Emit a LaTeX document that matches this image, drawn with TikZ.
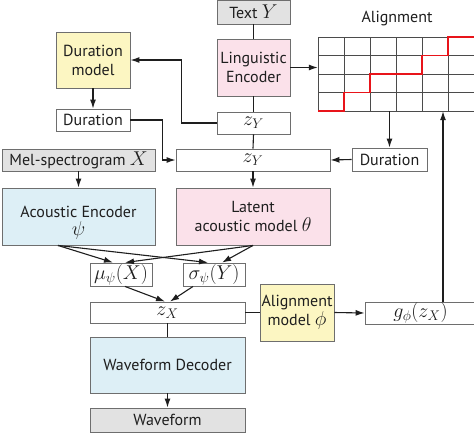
\RequirePackage{fix-cm}
\documentclass[tikz,border=0pt]{standalone}
\usepackage{fontspec}
\setmainfont{PT Sans}
\usetikzlibrary{arrows.meta}
\definecolor{bord}{HTML}{6E6E6E}
\definecolor{cyel}{HTML}{FCF6C2}
\definecolor{cpink}{HTML}{FBE1EA}
\definecolor{cblue}{HTML}{DDEFF6}
\definecolor{cgray}{HTML}{E2E2E2}
\definecolor{cred}{HTML}{E8141A}
\definecolor{cline}{HTML}{1E1E1E}
\newcommand\mymath[1]{{\fontsize{20}{20}\selectfont$#1$}}
\begin{document}
\begin{tikzpicture}[x=1pt,y=-1pt,
  font=\fontsize{16}{19}\selectfont,
  box/.style={draw=bord,line width=0.9pt,inner sep=0pt,align=center,text=cline},
  conn/.style={draw=cline,line width=1.1pt},
  arr/.style={conn,-{Latex[length=9pt,width=6pt]}}]
\useasboundingbox (0,0) rectangle (474,432);
\clip (0,0) rectangle (474,432);
\fill[white] (0,0) rectangle (474,432);
% nodes
\node[box,fill=cgray,minimum width=73pt,minimum height=24pt] (textY) at (253.5,12) {Text \mymath{Y}};
\node[box,fill=cpink,minimum width=73pt,minimum height=57pt] (ling) at (253.5,67.5) {Linguistic\\Encoder};
\node[box,fill=cyel,minimum width=74pt,minimum height=56pt] (durmodel) at (93,60) {Duration\\model};
\node[box,minimum width=74pt,minimum height=22pt] (dur1) at (93,120) {Duration};
\node[box,minimum width=73pt,minimum height=22pt] (zy1) at (253.5,123) {\mymath{z_Y}};
\node[box,fill=cgray,minimum width=153pt,minimum height=22pt] (mel) at (78.5,160) {Mel-spectrogram \mymath{X}};
\node[box,minimum width=154pt,minimum height=22pt] (zy2) at (253,160) {\mymath{z_Y}};
\node[box,minimum width=75pt,minimum height=23pt] (dur2) at (389.5,159.5) {Duration};
\node[text=cline] (alabel) at (397,19) {Alignment};
\node[minimum width=156pt,minimum height=74pt,inner sep=0pt] (grid) at (396,74) {};
\node[box,fill=cblue,minimum width=153pt,minimum height=57pt] (ae) at (78.5,216.5)
  {\raisebox{-6pt}[\height][\depth]{\begin{tabular}{@{}c@{}}Acoustic Encoder\\[-1pt]\mymath{\psi}\end{tabular}}};
\node[box,fill=cpink,minimum width=154pt,minimum height=57pt] (latent) at (253,216.5) {Latent\\acoustic model \mymath{\theta}};
\node[box,minimum width=62pt,minimum height=23pt] (mu) at (121,274.5) {\mymath{\mu_\psi(X)}};
\node[box,minimum width=62pt,minimum height=23pt] (sigma) at (214,274.5) {\mymath{\sigma_\psi(Y)}};
\node[box,minimum width=155pt,minimum height=21pt] (zx) at (167.5,312.5) {\mymath{z_X}};
\node[box,fill=cyel,minimum width=74pt,minimum height=57pt] (almodel) at (297,312.5) {Alignment\\model \mymath{\phi}};
\node[box,minimum width=111pt,minimum height=22pt] (gphi) at (420.5,313) {\mymath{g_\phi(z_X)}};
\node[box,fill=cblue,minimum width=155pt,minimum height=56pt] (wdec) at (167.5,365) {Waveform Decoder};
\node[box,fill=cgray,minimum width=155pt,minimum height=24pt] (wave) at (167.5,420) {Waveform};
% alignment grid
\foreach \gx in {318,344,370,396,422,448,474}
  \draw[draw=cline!80,line width=0.8pt] (\gx,37) -- (\gx,111);
\foreach \gy in {37,55.5,74,92.5,111}
  \draw[draw=cline!80,line width=0.8pt] (318,\gy) -- (474,\gy);
\draw[cred,line width=1.6pt] (318,111) -- (344,111) -- (344,92.5) -- (370,92.5) -- (370,74)
  -- (422,74) -- (422,55.5) -- (448,55.5) -- (448,37) -- (476,37);
% connectors
\draw[conn] (textY.south) -- (ling.north);
\draw[conn] (ling.south) -- (zy1.north);
\draw[conn] (zy1.south) -- (zy2.north);
\draw[arr] (zy2.south) -- (latent.north);
\draw[arr] (zy1.west) -- ++(-35,0) |- (durmodel.east);
\draw[arr] (durmodel.south) -- (dur1.north);
\draw[arr] (dur1.east) -- ++(32,0) |- (zy2.west);
\draw[arr] (mel.south) -- (ae.north);
\draw[arr] (ling.east) -- (ling.east -| grid.west);
\draw[arr] (grid.south -| dur2.north) -- (dur2.north);
\draw[arr] (dur2.west) -- (zy2.east);
\draw[arr] ([xshift=-20.5pt]ae.south) -- ([xshift=-8pt]mu.north);
\draw[arr] ([xshift=-20.5pt]ae.south) -- ([xshift=-6pt]sigma.north);
\draw[arr] (latent.south) -- ([xshift=4pt]mu.north);
\draw[arr] (latent.south) -- ([xshift=8pt]sigma.north);
\draw[arr] ([xshift=4pt]mu.south) -- ([xshift=-2.5pt]zx.north);
\draw[arr] ([xshift=-21pt]sigma.south) -- ([xshift=2.5pt]zx.north);
\draw[conn] (zx.south) -- (wdec.north);
\draw[arr] (wdec.south) -- (wave.north);
\draw[conn] (zx.east) -- (almodel.west);
\draw[arr] (almodel.east) -- (gphi.west);
\draw[arr] ([xshift=22.5pt]gphi.north) -- ([xshift=22.5pt]gphi.north |- grid.south);
\end{tikzpicture}
\end{document}
